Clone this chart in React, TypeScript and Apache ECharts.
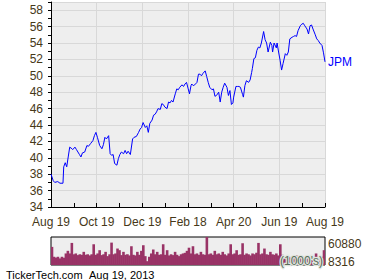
import React, { useEffect, useRef } from "react";
import * as echarts from "echarts";

// x tick labels (every 61 days from Aug 19, 2012)
const xTickLabels = ["Aug 19", "Oct 19", "Dec 19", "Feb 18", "Apr 20", "Jun 19", "Aug 19"];

// days since 2012-08-19
const days = [
  0, 3, 5, 9, 12, 16, 17, 19, 21, 23,
  25, 28, 29, 32, 34, 38, 40, 42, 45, 48,
  50, 53, 56, 58, 60, 62, 65, 68, 70, 72,
  74, 77, 79, 81, 83, 85, 88, 90, 92, 94,
  97, 99, 101, 103, 106, 109, 111, 114, 117, 119,
  121, 123, 126, 128, 130, 132, 135, 137, 139, 141,
  143, 146, 148, 150, 152, 155, 157, 159, 161, 163,
  166, 168, 170, 172, 175, 177, 179, 181, 183, 185,
  187, 188, 190, 192, 195, 197, 199, 201, 203, 206,
  208, 210, 212, 215, 217, 219, 221, 224, 226, 228,
  230, 232, 235, 237, 239, 241, 243, 244, 247, 249,
  251, 253, 256, 257, 259, 261, 264, 266, 268, 269,
  271, 273, 275, 277, 279, 281, 284, 286, 288, 290,
  293, 295, 296, 298, 301, 302, 304, 306, 308, 310,
  313, 315, 317, 319, 322, 324, 326, 328, 330, 333,
  335, 337, 339, 342, 344, 346, 348, 350, 353, 355,
  357, 359, 362, 364, 366,
];

// JPM closing prices
const prices = [
  38.0, 37.2, 37.0, 37.1, 36.9, 36.9, 38.9, 39.4, 38.9, 40.1,
  41.3, 41.1, 41.0, 41.3, 41.0, 40.4, 40.1, 40.6, 40.7, 41.5,
  41.4, 41.75, 42.1, 42.7, 43.1, 42.5, 41.5, 41.1, 41.6, 42.5,
  42.3, 42.7, 40.5, 40.3, 40.4, 39.3, 39.1, 39.9, 40.4, 40.7,
  40.5, 40.9, 40.5, 40.8, 40.4, 42.3, 42.5, 42.6, 43.1, 43.5,
  43.7, 44.3, 43.7, 43.9, 43.1, 44.2, 44.6, 45.2, 45.3, 45.6,
  46.0, 45.9, 46.6, 46.5, 46.2, 46.0, 46.8, 46.7, 47.0, 46.8,
  47.8, 48.4, 48.3, 48.6, 48.9, 48.7, 49.0, 49.2, 48.5, 47.8,
  48.8, 49.0, 48.8, 48.9, 49.2, 50.2, 50.2, 50.0, 50.3, 50.6,
  49.9, 49.2, 48.6, 48.3, 48.4, 47.5, 47.6, 48.0, 46.8, 48.0,
  48.6, 49.1, 48.6, 47.6, 48.2, 46.5, 46.7, 47.4, 48.7, 48.7,
  48.7, 48.6, 47.7, 47.4, 48.8, 49.4, 49.2, 49.5, 50.4, 50.9,
  52.1, 52.2, 53.1, 53.5, 53.4, 54.0, 55.4, 54.4, 54.0, 52.9,
  54.1, 53.7, 52.9, 54.0, 53.4, 54.0, 52.9, 51.9, 50.7, 51.5,
  52.7, 52.5, 52.9, 54.5, 54.7, 54.8, 54.9, 54.8, 55.5, 56.1,
  56.3, 56.4, 56.1, 55.7, 55.1, 56.1, 56.2, 55.7, 55.0, 54.5,
  54.3, 54.0, 53.7, 52.8, 51.7,
];

// volume in 1000's
const volumes = [
  39400, 17900, 16100, 17900, 14300, 17900, 15800, 25100, 30800, 25100,
  48000, 23300, 25100, 21500, 23300, 22200, 28600, 22200, 23300, 20800,
  23300, 45100, 22200, 25100, 32200, 21500, 23300, 28600, 19300, 23300,
  48700, 23300, 25100, 35800, 32200, 21500, 28600, 22200, 23300, 20800,
  40800, 22200, 20800, 28600, 22200, 30800, 43000, 19300, 8316, 17900,
  25100, 33700, 23300, 28600, 22200, 23300, 45100, 22200, 32200, 20800,
  23300, 21500, 28600, 22200, 19300, 23300, 25100, 26500, 30800, 37600,
  25100, 40800, 23300, 25100, 22200, 28600, 23300, 22200, 60880, 23300,
  25100, 22200, 30800, 23300, 25100, 22200, 28600, 23300, 20800, 25100,
  45100, 23300, 25100, 32200, 22200, 23300, 47300, 22200, 25100, 23300,
  20800, 25100, 23300, 26500, 48000, 23300, 25100, 35800, 23300, 22200,
  28600, 23300, 22200, 25100, 20800, 45100, 22200, 17900, 19300, 17900,
  16100, 19300, 17900, 20800, 17900, 16100, 19300, 15000, 16100, 14300,
  17900, 15000, 16100, 25100, 15000, 14300, 17900, 32200,
];

const volMax = 60880;
const volMin = 8316;
const volUnit = "(1000's)";
const ticker = "JPM";
const footerSite = "TickerTech.com";
const footerDate = "Aug 19, 2013";

const LABEL_COLOR = "#463818";
const FONT = "'Liberation Sans', Arial, sans-serif";

export default function App() {
  const ref = useRef<HTMLDivElement>(null);
  useEffect(() => {
    if (!ref.current) return;
    const chart = echarts.init(ref.current, null, { renderer: "svg" });
    const option: any = {
      animation: false,
      backgroundColor: "#ffffff",
      textStyle: { fontFamily: FONT },
      grid: [
        {
          left: 51, top: 2, width: 274, height: 205,
          show: true, backgroundColor: "#eeeeee", borderWidth: 0,
          containLabel: false, outerBoundsMode: "none",
        },
        {
          left: 51, top: 237, width: 274, height: 28,
          show: true, backgroundColor: "#eeeeee", borderColor: "#000000", borderWidth: 1,
          containLabel: false, outerBoundsMode: "none",
        },
      ],
      xAxis: [
        {
          type: "value", gridIndex: 0, min: 0, max: 366, interval: 61,
          axisLine: { show: true, onZero: false, lineStyle: { color: "#000000", width: 1 } },
          axisTick: { show: true, inside: true, length: 4, lineStyle: { color: "#000000" } },
          minorTick: { show: true, splitNumber: 2, length: 4, lineStyle: { color: "#000000" } },
          splitLine: { show: true, lineStyle: { color: "#d8d8d8", width: 1 } },
          axisLabel: {
            color: LABEL_COLOR, fontSize: 12, fontFamily: FONT, margin: 9,
            formatter: (v: number) => xTickLabels[Math.round(v / 61)] ?? "",
          },
        },
        {
          type: "category", gridIndex: 1, data: volumes.map((_, i) => i), show: false,
        },
      ],
      yAxis: [
        {
          type: "value", gridIndex: 0, min: 34, max: 59, interval: 2,
          axisLine: { show: true, lineStyle: { color: "#000000", width: 1 } },
          axisTick: { show: true, length: 3, lineStyle: { color: "#000000" } },
          minorTick: { show: true, splitNumber: 2, length: 3, lineStyle: { color: "#000000" } },
          splitLine: { show: true, lineStyle: { color: "#d8d8d8", width: 1 } },
          axisLabel: {
            color: LABEL_COLOR, fontSize: 12, fontFamily: FONT, margin: 8,
            showMaxLabel: false,
            formatter: (v: number) => (v % 2 === 0 ? String(v) : ""),
          },
        },
        {
          type: "value", gridIndex: 1, min: 0, max: volMax, show: false,
          splitLine: { show: false },
        },
      ],
      series: [
        {
          type: "line", xAxisIndex: 0, yAxisIndex: 0,
          data: days.map((d, i) => [d, prices[i]]),
          showSymbol: false, symbol: "none",
          lineStyle: { color: "#0000ff", width: 1 },
          endLabel: {
            show: true, formatter: ticker, color: "#0000ff",
            fontSize: 12, fontFamily: FONT, distance: 3,
          },
        },
        {
          type: "bar", xAxisIndex: 1, yAxisIndex: 1, data: volumes,
          barCategoryGap: 0, barGap: 0, barWidth: 2.6,
          itemStyle: { color: "#993366" },
        },
      ],
      graphic: [
        {
          type: "text", x: 328, y: 244,
          style: { text: String(volMax), fill: LABEL_COLOR, font: `12px ${FONT}`, verticalAlign: "middle" },
        },
        {
          type: "text", x: 328, y: 262,
          style: { text: String(volMin), fill: LABEL_COLOR, font: `12px ${FONT}`, verticalAlign: "middle" },
        },
        {
          type: "text", x: 323, y: 260.5, z: 100,
          style: {
            text: volUnit, fill: "#dfe6df", font: `12px ${FONT}`,
            align: "right", verticalAlign: "middle",
            stroke: "#dfe6df", lineWidth: 2.5,
          },
        },
        {
          type: "text", x: 323, y: 260.5, z: 101,
          style: {
            text: volUnit, fill: "#5a6b5a", font: `12px ${FONT}`,
            align: "right", verticalAlign: "middle",
          },
        },
        {
          type: "text", x: 6, y: 275,
          style: { text: footerSite, fill: "#000000", font: `11px ${FONT}`, verticalAlign: "middle" },
        },
        {
          type: "text", x: 89, y: 275,
          style: { text: footerDate, fill: "#000000", font: `11px ${FONT}`, verticalAlign: "middle" },
        },
      ],
    };
    chart.setOption(option);
    return () => chart.dispose();
  }, []);
  return (
    <div
      ref={ref}
      style={{ position: "absolute", left: 0, top: 0, width: 380, height: 280 }}
    />
  );
}
